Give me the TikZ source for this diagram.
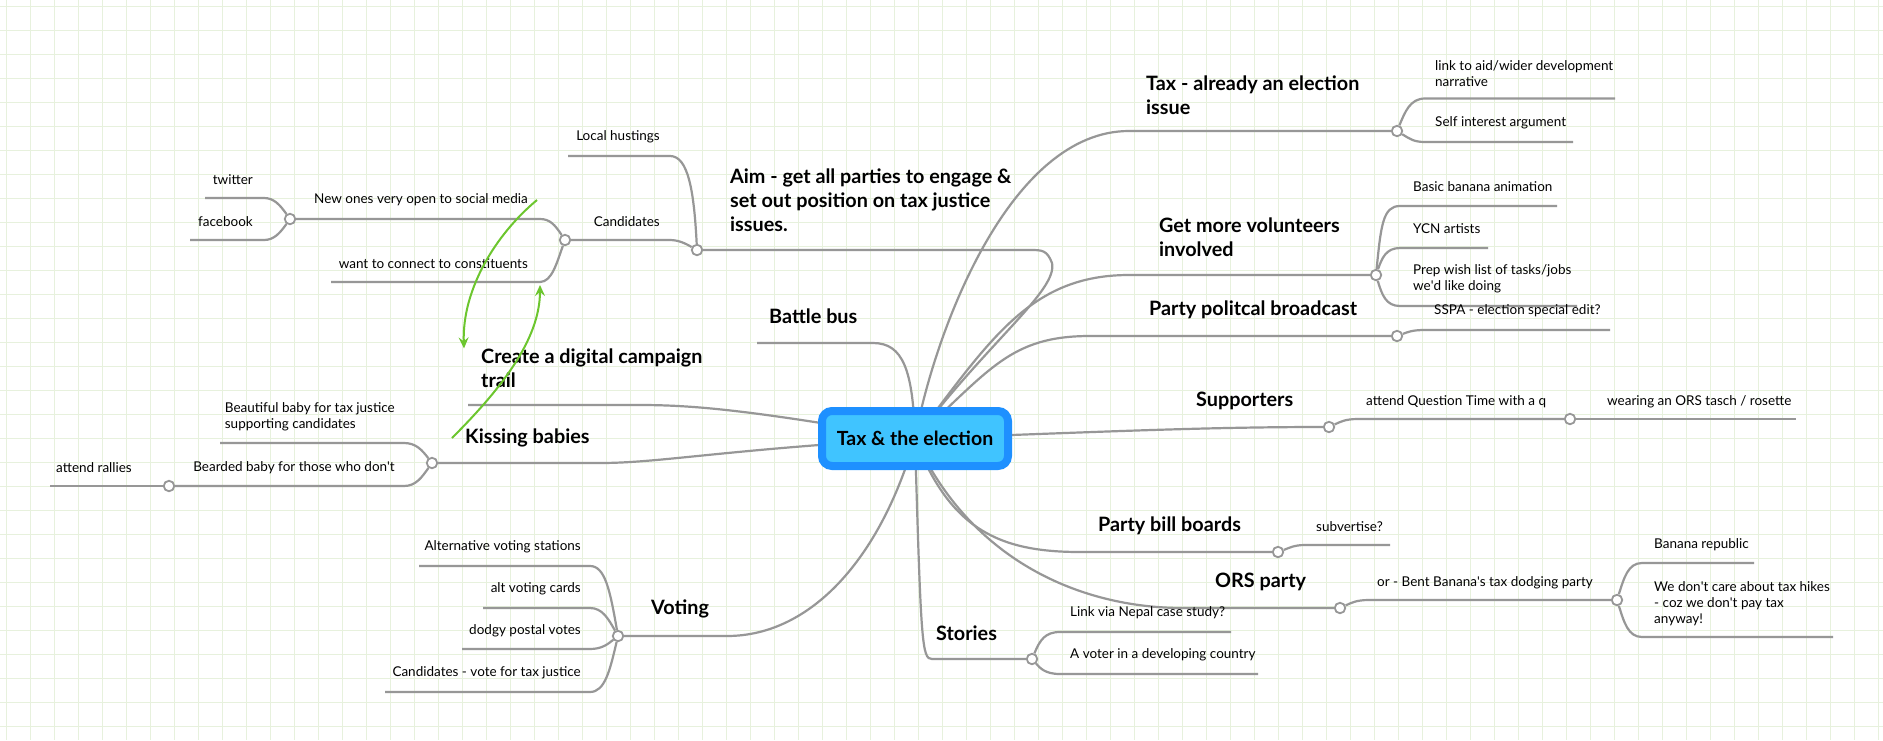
\documentclass[tikz,border=0pt]{standalone}
\usepackage{fontspec}
\setmainfont{Lato}
\usetikzlibrary{arrows.meta}
\pgfdeclarelayer{bg}
\pgfsetlayers{bg,main}
\definecolor{linegray}{HTML}{979797}
\definecolor{gridgreen}{HTML}{E7F1DD}
\definecolor{hubedge}{HTML}{1E90FF}
\definecolor{hubfill}{HTML}{40C4FF}
\definecolor{linkgreen}{HTML}{6CC62E}
\newcommand{\ap}{\textquotesingle}

\begin{document}
\begin{tikzpicture}[x=1pt,y=-1pt,
	conn/.style={draw=linegray, line width=2.2pt},
	dot/.style={circle, draw=linegray, line width=1.8pt, fill=white, minimum size=10.5pt, inner sep=0pt},
	topic/.style={font=\fontsize{19.8}{24}\selectfont\bfseries, inner sep=0pt, align=left},
	leaf/.style={font=\fontsize{13.5}{16}\selectfont, inner sep=0pt, align=left},
	hubbox/.style={draw=hubedge, line width=8pt, fill=hubfill, rounded corners=10pt, minimum width=186pt, minimum height=55pt, font=\fontsize{19.5}{24}\selectfont\bfseries},
	jump/.style={draw=linkgreen, line width=2pt, -{Stealth[length=11pt,width=10pt,inset=4pt]}}]
	\useasboundingbox (0,0) rectangle (1883,740);
	
	% Central topic
	\node[hubbox] (hub) at (915,438.5) {Tax \& the election};
	
	% Branch dots
	\node[dot] (taxdot) at (1397,131) {};
	\node[dot] (voldot) at (1376,275) {};
	\node[dot] (brddot) at (1397,336) {};
	\node[dot] (supdot) at (1329,427) {};
	\node[dot] (qtdot) at (1570,419) {};
	\node[dot] (billdot) at (1278,552) {};
	\node[dot] (orsdot) at (1340,608) {};
	\node[dot] (bentdot) at (1617,600) {};
	\node[dot] (stodot) at (1032,659) {};
	\node[dot] (aimdot) at (697,250) {};
	\node[dot] (canddot) at (565,240) {};
	\node[dot] (socdot) at (290,219) {};
	\node[dot] (kissdot) at (432,463) {};
	\node[dot] (ralldot) at (169,486) {};
	\node[dot] (votedot) at (618,636) {};
	
	% Free ends of the lines
	\coordinate (aidend) at (1615,98.5);
	\coordinate (selfend) at (1573,142);
	\coordinate (banend) at (1557,206);
	\coordinate (ycnend) at (1488,248);
	\coordinate (prepend) at (1577,306);
	\coordinate (sspaend) at (1610,330);
	\coordinate (wearend) at (1796,419);
	\coordinate (subend) at (1390,545);
	\coordinate (repend) at (1754,563);
	\coordinate (careend) at (1833,637);
	\coordinate (nepend) at (1231,632);
	\coordinate (voterend) at (1258,674);
	\coordinate (hustend) at (568,156);
	\coordinate (connstart) at (540,282);
	\coordinate (connend) at (331,282);
	\coordinate (twend) at (205,198);
	\coordinate (fbend) at (190,240);
	\coordinate (beautend) at (220,443);
	\coordinate (rallend) at (50,486);
	\coordinate (altstend) at (419,566);
	\coordinate (cardend) at (483,608);
	\coordinate (postend) at (462,649);
	\coordinate (candvend) at (385,692);
	\coordinate (digend) at (468,405);
	\coordinate (busend) at (757,343);
	
	% Main topics, right
	\node[topic, anchor=west] (taxlbl) at (1146,95) {Tax - already an election\\issue};
	\node[topic, anchor=west] (vollbl) at (1159,237) {Get more volunteers\\involved};
	\node[topic, anchor=west] (brdlbl) at (1149,310) {Party politcal broadcast};
	\node[topic, anchor=west] (suplbl) at (1196,401) {Supporters};
	\node[topic, anchor=west] (billlbl) at (1098,526) {Party bill boards};
	\node[topic, anchor=west] (orslbl) at (1215,582) {ORS party};
	\node[topic, anchor=west] (stolbl) at (936,633) {Stories};
	
	% Main topics, left
	\node[topic, anchor=west] (aimlbl) at (730,200) {Aim - get all parties to engage \&\\set out position on tax justice\\issues.};
	\node[topic, anchor=west] (buslbl) at (769,316) {Battle bus};
	\node[topic, anchor=west] (diglbl) at (481,368) {Create a digital campaign\\trail};
	\node[topic, anchor=west] (kisslbl) at (465,438) {Kissing babies};
	\node[topic, anchor=west] (votelbl) at (651,609) {Voting};
	
	% Sub topics, right
	\node[leaf, anchor=west] (aidlbl) at (1435,74) {link to aid/wider development\\narrative};
	\node[leaf, anchor=west] (selflbl) at (1435,123) {Self interest argument};
	\node[leaf, anchor=west] (banlbl) at (1413,187) {Basic banana animation};
	\node[leaf, anchor=west] (ycnlbl) at (1413,229) {YCN artists};
	\node[leaf, anchor=west] (preplbl) at (1413,279) {Prep wish list of tasks/jobs\\we\ap d like doing};
	\node[leaf, anchor=west] (sspalbl) at (1434,311) {SSPA - election special edit?};
	\node[leaf, anchor=west] (qtlbl) at (1366,402) {attend Question Time with a q};
	\node[leaf, anchor=west] (wearlbl) at (1607,402) {wearing an ORS tasch / rosette};
	\node[leaf, anchor=west] (sublbl) at (1316,527) {subvertise?};
	\node[leaf, anchor=west] (bentlbl) at (1377,583) {or - Bent Banana\ap s tax dodging party};
	\node[leaf, anchor=west] (replbl) at (1654,545) {Banana republic};
	\node[leaf, anchor=west] (carelbl) at (1654,604) {We don\ap t care about tax hikes\\- coz we don\ap t pay tax\\anyway!};
	\node[leaf, anchor=west] (neplbl) at (1070,613) {Link via Nepal case study?};
	\node[leaf, anchor=west] (voterlbl) at (1070,655) {A voter in a developing country};
	
	% Sub topics, left
	\node[leaf, anchor=east] (hustlbl) at (660,137) {Local hustings};
	\node[leaf, anchor=east] (candlbl) at (660,222) {Candidates};
	\node[leaf, anchor=east] (newlbl) at (528,200) {New ones very open to social media};
	\node[leaf, anchor=east] (connlbl) at (528,264) {want to connect to constituents};
	\node[leaf, anchor=east] (twlbl) at (253,180) {twitter};
	\node[leaf, anchor=east] (fblbl) at (253,222) {facebook};
	\node[leaf, anchor=east] (beautlbl) at (395,417) {Beautiful baby for tax justice\\supporting candidates};
	\node[leaf, anchor=east] (beardlbl) at (395,468) {Bearded baby for those who don\ap t};
	\node[leaf, anchor=east] (rallylbl) at (132,468) {attend rallies};
	\node[leaf, anchor=east] (altlbl) at (581,547) {Alternative voting stations};
	\node[leaf, anchor=east] (cardlbl) at (581,589) {alt voting cards};
	\node[leaf, anchor=east] (postlbl) at (581,631) {dodgy postal votes};
	\node[leaf, anchor=east] (candvlbl) at (581,673) {Candidates - vote for tax justice};
	
	\begin{pgfonlayer}{bg}
		% Paper and grid
		\fill[white] (0,0) rectangle (1883,740);
		\foreach \gx in {6,30,...,1878}
			\draw[gridgreen, line width=1pt] (\gx,0) -- (\gx,740);
		\foreach \gy in {6,30,...,726}
			\draw[gridgreen, line width=1pt] (0,\gy) -- (1883,\gy);
		
		% Hub to main topics
		\draw[conn] (hub.center) .. controls (935,330) and (1010,131) .. (1129,131) -- (taxdot);
		\draw[conn] (hub.center) .. controls (990,340) and (1058,290) .. (1052,263) .. controls (1047,250) and (1042,250) .. (1030,250) -- (aimdot);
		\draw[conn] (hub.center) .. controls (990,340) and (1030,275) .. (1129,275) -- (voldot);
		\draw[conn] (hub.center) .. controls (990,370) and (1010,336) .. (1090,336) -- (brddot);
		\draw[conn] (hub.center) .. controls (1100,432) and (1200,427) .. (supdot);
		\draw[conn] (hub.center) .. controls (950,530) and (1000,552) .. (1080,552) -- (billdot);
		\draw[conn] (hub.center) .. controls (970,560) and (1080,608) .. (1183,608) -- (orsdot);
		\draw[conn] (hub.center) .. controls (921,645) and (922,659) .. (932,659) -- (stodot);
		\draw[conn] (hub.center) .. controls (880,560) and (810,636) .. (727,636) -- (votedot);
		\draw[conn] (hub.center) .. controls (720,450) and (660,463) .. (600,463) -- (kissdot);
		\draw[conn] (hub.center) .. controls (760,412) and (700,405) .. (640,405) -- (digend);
		\draw[conn] (hub.center) .. controls (913,370) and (903,343) .. (873,343) -- (busend);
		
		% Right sub topics
		\draw[conn] (taxdot) .. controls (1405,112) and (1410,98.5) .. (1425,98.5) -- (aidend);
		\draw[conn] (taxdot) .. controls (1410,139) and (1414,142) .. (1425,142) -- (selfend);
		\draw[conn] (voldot) .. controls (1381,225) and (1383,206) .. (1400,206) -- (banend);
		\draw[conn] (voldot) .. controls (1382,258) and (1386,248) .. (1400,248) -- (ycnend);
		\draw[conn] (voldot) .. controls (1382,295) and (1386,306) .. (1400,306) -- (prepend);
		\draw[conn] (brddot) .. controls (1408,332) and (1412,330) .. (1425,330) -- (sspaend);
		\draw[conn] (supdot) .. controls (1340,422) and (1345,419) .. (1358,419) -- (qtdot);
		\draw[conn] (qtdot) -- (wearend);
		\draw[conn] (billdot) .. controls (1289,548) and (1294,545) .. (1305,545) -- (subend);
		\draw[conn] (orsdot) .. controls (1351,603) and (1356,600) .. (1369,600) -- (bentdot);
		\draw[conn] (bentdot) .. controls (1624,578) and (1628,563) .. (1642,563) -- (repend);
		\draw[conn] (bentdot) .. controls (1624,622) and (1628,637) .. (1642,637) -- (careend);
		\draw[conn] (stodot) .. controls (1040,640) and (1045,632) .. (1060,632) -- (nepend);
		\draw[conn] (stodot) .. controls (1040,668) and (1045,674) .. (1060,674) -- (voterend);
		
		% Left sub topics
		\draw[conn] (aimdot) .. controls (694,190) and (688,156) .. (670,156) -- (hustend);
		\draw[conn] (aimdot) .. controls (688,245) and (680,240) .. (670,240) -- (canddot);
		\draw[conn] (canddot) .. controls (555,225) and (550,219) .. (540,219) -- (socdot);
		\draw[conn] (canddot) .. controls (557,262) and (552,282) .. (connstart) -- (connend);
		\draw[conn] (socdot) .. controls (280,205) and (274,198) .. (264,198) -- (twend);
		\draw[conn] (socdot) .. controls (280,233) and (274,240) .. (264,240) -- (fbend);
		\draw[conn] (kissdot) .. controls (422,450) and (416,443) .. (404,443) -- (beautend);
		\draw[conn] (kissdot) .. controls (422,477) and (416,486) .. (404,486) -- (ralldot);
		\draw[conn] (ralldot) -- (rallend);
		\draw[conn] (votedot) .. controls (610,590) and (605,566) .. (590,566) -- (altstend);
		\draw[conn] (votedot) .. controls (608,618) and (602,608) .. (590,608) -- (cardend);
		\draw[conn] (votedot) .. controls (608,644) and (602,649) .. (590,649) -- (postend);
		\draw[conn] (votedot) .. controls (610,670) and (605,692) .. (590,692) -- (candvend);
	\end{pgfonlayer}
	
	% Green relationship arrows
	\draw[jump] ([xshift=9pt]newlbl.east) .. controls (495,235) and (462,290) .. ([xshift=-17pt]diglbl.north west);
	\draw[jump] ([xshift=-13pt]kisslbl.west) .. controls (500,390) and (540,340) .. ([yshift=-3pt]connstart);
\end{tikzpicture}
\end{document}
